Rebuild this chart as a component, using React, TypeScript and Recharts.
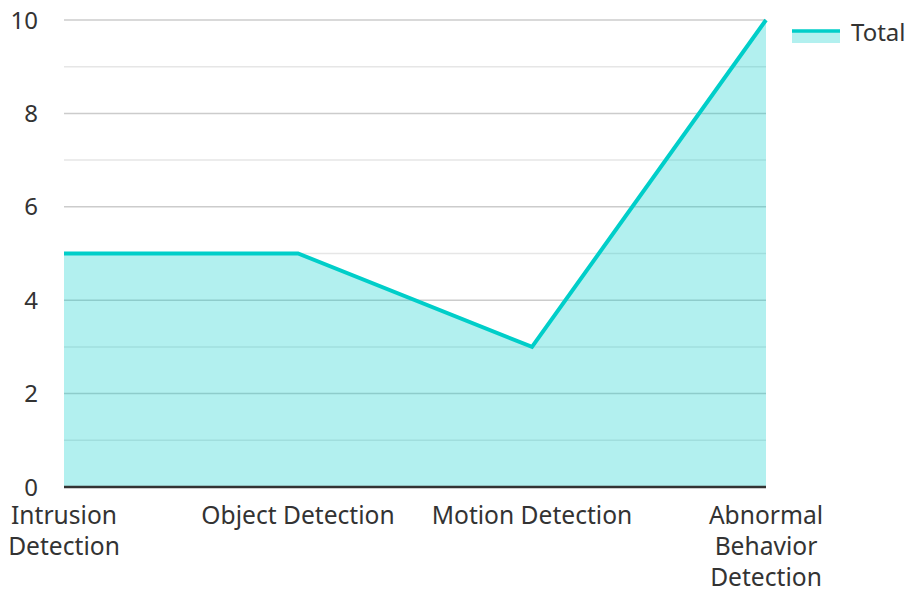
import React from "react";
import { AreaChart, Area, XAxis, YAxis, CartesianGrid, Text } from "recharts";

const categories = ["Intrusion Detection", "Object Detection", "Motion Detection", "Abnormal Behavior Detection"];
const totals = [5, 5, 3, 10];
const yTicks = [0, 2, 4, 6, 8, 10];
const minorTicks = [1, 3, 5, 7, 9];
const seriesName = "Total";

const data = categories.map((c, i) => ({ name: c, Total: totals[i] }));

const FONT = "'Noto Sans', sans-serif";
const FS = 24;
const XFS = 24.6;
const LINE = "#00cec9";
const FILL = "#00cec9";

const XTick = (props: any) => {
  const { x, y, payload, index } = props;
  const edge = index === 0 || index === categories.length - 1;
  return (
    <Text
      x={x}
      y={y}
      width={edge ? 140 : 240}
      textAnchor="middle"
      verticalAnchor="start"
      lineHeight={31}
      fontSize={XFS}
      fontFamily={FONT}
      fill="#333"
      style={{ fontSize: XFS, fontFamily: FONT }}
    >
      {payload.value}
    </Text>
  );
};

export default function App() {
  return (
    <div style={{ position: "absolute", left: 0, top: 0, width: 907, height: 590, background: "#fff" }}>
      <AreaChart width={907} height={590} data={data} margin={{ top: 20, right: 141, bottom: 0, left: 0 }}>
        <CartesianGrid vertical={false} horizontalValues={minorTicks} stroke="#e6e6e6" strokeWidth={1.5} />
        <CartesianGrid vertical={false} stroke="#cccccc" strokeWidth={1.5} />
        <XAxis
          dataKey="name"
          tick={<XTick />}
          tickLine={false}
          tickSize={0}
          tickMargin={20}
          height={103}
          interval={0}
          axisLine={{ stroke: "#333", strokeWidth: 2.5 }}
        />
        <YAxis
          domain={[0, 10]}
          ticks={yTicks}
          width={64}
          axisLine={false}
          tickLine={false}
          tickSize={0}
          tickMargin={26}
          tick={{ fontSize: FS, fontFamily: FONT, fill: "#333" }}
        />
        <Area
          type="linear"
          dataKey="Total"
          name={seriesName}
          stroke={LINE}
          strokeWidth={4}
          fill={FILL}
          fillOpacity={0.3}
          dot={false}
          activeDot={false}
          isAnimationActive={false}
        />
      </AreaChart>
      <div
        style={{
          position: "absolute",
          left: 790,
          top: 14,
          display: "flex",
          alignItems: "center",
          fontFamily: FONT,
          fontSize: FS,
          color: "#333",
          whiteSpace: "nowrap",
        }}
      >
        <svg width={52} height={34} style={{ marginRight: 9 }}>
          <rect x={2} y={17} width={48} height={12} fill={FILL} fillOpacity={0.3} />
          <line x1={2} x2={50} y1={17} y2={17} stroke={LINE} strokeWidth={3.5} />
        </svg>
        <span>{seriesName}</span>
      </div>
    </div>
  );
}
